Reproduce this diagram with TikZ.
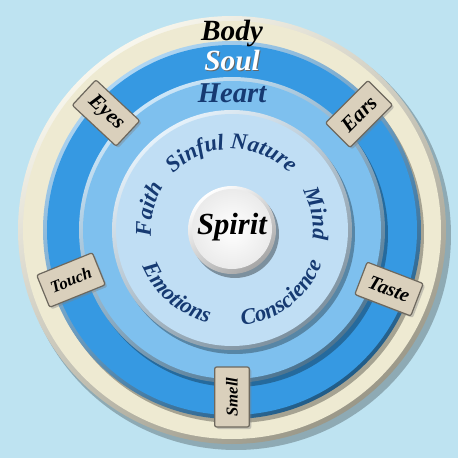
\documentclass[tikz,border=0pt]{standalone}
\usepackage{fontspec}
\setmainfont{Liberation Serif}
\usepackage{xcolor}
\usetikzlibrary{decorations.text,shadows}

\definecolor{bgblue}{HTML}{BEE3F1}
\definecolor{bodycream}{HTML}{EEEAD2}
\definecolor{soulblue}{HTML}{3699E2}
\definecolor{heartblue}{HTML}{7EC0EE}
\definecolor{innerblue}{HTML}{C0DEF4}
\definecolor{navytext}{HTML}{163A72}
\definecolor{tagcream}{HTML}{DAD0BC}

\tikzset{
  ringlabel/.style={font=\fontsize{22}{26}\selectfont\bfseries\itshape},
  sensebox/.style={draw=tagcream!50!black, fill=tagcream, line width=0.9pt,
    rounded corners=1.5pt, minimum width=45pt, minimum height=26pt, inner sep=1pt,
    drop shadow={shadow xshift=1.5pt, shadow yshift=-1.5pt, opacity=0.4}}
}
\newcommand{\arcword}{\fontsize{17}{19}\selectfont\bfseries\itshape\color{navytext}}

\begin{document}
\begin{tikzpicture}[x=0.75pt,y=0.75pt]
  % Background
  \fill[bgblue] (-232,-228) rectangle (226,230);

  % Body
  \fill[black, opacity=0.25] (4,-5) circle (215);
  \shade[top color=bodycream!40!white, bottom color=bodycream!65!black, shading angle=35] (0,0) circle (214);
  \fill[bodycream] (0,0) circle (209);

  % Soul
  \fill[black, opacity=0.3] (3,-4) circle (189);
  \shade[top color=soulblue!40!white, bottom color=soulblue!60!black, shading angle=35] (0,0) circle (189);
  \fill[soulblue] (0,0) circle (185);

  % Heart
  \fill[black, opacity=0.3] (3,-4) circle (153);
  \shade[top color=heartblue!40!white, bottom color=heartblue!60!black, shading angle=35] (0,0) circle (153);
  \fill[heartblue] (0,0) circle (149);

  % Inner disc
  \fill[black, opacity=0.3] (3,-4) circle (120);
  \shade[top color=innerblue!40!white, bottom color=innerblue!65!black, shading angle=35] (0,0) circle (120);
  \fill[innerblue] (0,0) circle (116);

  % Spirit
  \fill[black, opacity=0.35] (3,-4) circle (44);
  \shade[top color=white, bottom color=black!35, shading angle=35] (0,0) circle (44);
  \shade[inner color=white, outer color=black!8] (0,1) circle (40);
  \node[font=\fontsize{23}{26}\selectfont\bfseries\itshape] (spiritlabel) at (0,3) {Spirit};

  % Ring labels
  \node[ringlabel, text=black] (bodylabel) at (0,197) {Body};
  \node[ringlabel, text=black!60] at (1,169) {Soul};
  \node[ringlabel, text=white] (soullabel) at (0,170) {Soul};
  \node[ringlabel, font=\fontsize{21.5}{25}\selectfont\bfseries\itshape, text=navytext] (heartlabel) at (0,137) {Heart};

  % Text round the inner disc
  \path[decorate, decoration={text along path, text align=center,
    text={|\arcword|Sinful Nature}}] (160:81) arc[start angle=160, end angle=21, radius=81];
  \path[decorate, decoration={text along path, text align=center,
    text={|\arcword|Mind}}] (41:81) arc[start angle=41, end angle=-19, radius=81];
  \path[decorate, decoration={text along path, text align=center,
    text={|\arcword|Faith}}] (196:81) arc[start angle=196, end angle=136, radius=81];
  \path[decorate, decoration={text along path, text align=center,
    text={|\arcword|Conscience}}] (-100:96) arc[start angle=-100, end angle=-4, radius=96];
  \path[decorate, decoration={text along path, text align=center,
    text={|\arcword|Emotions}}] (-175:96) arc[start angle=-175, end angle=-87, radius=96];

  % Senses
  \node[sensebox, rotate=-43, font=\fontsize{16}{18}\selectfont\bfseries\itshape] (eyes) at (-126,117) {Eyes};
  \node[sensebox, rotate=45, font=\fontsize{16}{18}\selectfont\bfseries\itshape] (ears) at (127,116) {Ears};
  \node[sensebox, rotate=22, font=\fontsize{12.5}{15}\selectfont\bfseries\itshape] (touch) at (-161,-50) {Touch};
  \node[sensebox, rotate=-21, font=\fontsize{15}{17}\selectfont\bfseries\itshape] (taste) at (157,-59) {Taste};
  \node[sensebox, rotate=90, font=\fontsize{12.5}{15}\selectfont\bfseries\itshape] (smell) at (0,-167) {Smell};
\end{tikzpicture}
\end{document}
